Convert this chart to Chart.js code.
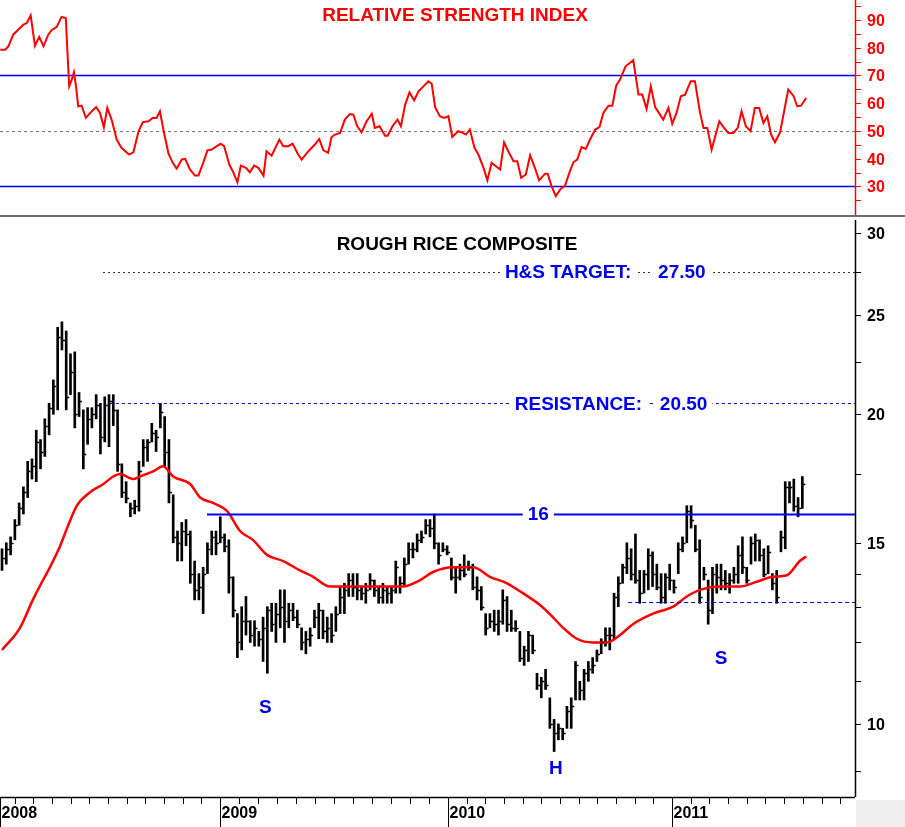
<!DOCTYPE html>
<html lang="en">
<head>
<meta charset="UTF-8">
<title>Rough Rice Composite</title>
<script src="https://cdn.jsdelivr.net/npm/chart.js@4.4.0/dist/chart.umd.min.js"></script>
<style>
  body { margin: 0; background: #fff; width: 905px; height: 827px; overflow: hidden; position: relative; }
  #rsiBox { position: absolute; left: 0; top: 0; width: 905px; height: 215px; }
  #sep { position: absolute; left: 0; top: 215px; width: 905px; height: 2px; background: #6e6e6e; }
  #mainBox { position: absolute; left: 0; top: 217px; width: 905px; height: 610px; }
  #corner { position: absolute; left: 856px; top: 800px; width: 49px; height: 27px; background: #eeeeee; }
</style>
</head>
<body>
<div id="rsiBox"><canvas id="rsiChart"></canvas></div>
<div id="sep"></div>
<div id="mainBox"><canvas id="priceChart"></canvas></div>
<div id="corner"></div>
<script>
// weekly bars, Jan 2008 .. Jul 2011 (index = week number)
const highs = [14.8,15.0,15.2,15.8,16.4,17.0,18.0,18.1,19.3,18.9,19.8,20.5,21.6,
  24.3,24.6,24.1,22.9,23.0,21.0,20.2,20.3,20.3,20.9,20.5,20.8,20.9,20.9,20.2,
  17.9,17.2,16.4,16.5,18.0,18.9,18.9,19.6,19.3,20.5,19.9,18.9,
  16.7,15.4,15.7,15.8,15.4,14.4,14.0,14.2,15.0,15.4,15.4,15.9,15.3,
  15.1,13.9,12.8,13.0,13.3,12.6,12.6,12.3,12.7,13.0,13.1,13.1,13.5,13.5,13.1,13.1,12.9,
  12.4,12.3,12.4,12.9,13.1,12.9,12.7,12.8,13.0,13.6,13.7,14.0,14.0,14.0,13.6,13.7,14.0,13.8,13.6,13.7,13.6,13.6,
  14.4,13.9,14.5,15.0,15.0,15.3,15.4,15.8,15.8,16.0,15.0,15.0,14.9,14.5,14.2,
  14.3,14.6,14.4,14.3,13.9,13.6,12.8,12.8,12.9,12.9,13.5,13.3,12.9,12.6,12.3,11.9,12.3,12.2,
  11.2,11.1,11.3,10.6,10.1,10.0,9.9,10.4,10.6,11.5,11.0,11.3,11.5,11.6,11.8,12.1,12.4,12.4,
  13.4,13.9,14.3,15.0,14.8,15.3,14.1,14.1,14.8,14.7,14.3,14.0,14.0,14.3,13.8,15.0,15.2,
  16.3,16.3,15.6,15.1,14.2,13.8,14.2,14.3,14.3,14.1,14.0,14.2,14.9,15.2,14.2,
  15.2,15.3,15.1,14.8,14.9,14.0,14.1,15.4,17.2,17.2,17.3,16.6,17.4];
const lows = [14.1,14.3,14.6,15.1,15.6,16.0,16.6,17.3,17.2,17.7,18.2,19.1,20.0,
  20.2,23.1,20.2,20.9,19.4,19.9,17.7,18.7,19.4,19.8,18.3,18.8,18.6,19.5,17.6,
  16.6,16.4,15.9,16.0,16.1,17.8,18.0,18.8,18.4,19.4,17.8,16.4,
  15.0,14.4,14.4,14.9,13.7,13.2,13.2,12.8,14.0,14.6,14.6,15.0,14.7,
  13.4,12.7,11.6,11.8,12.2,12.0,11.9,11.9,11.5,11.2,12.3,12.0,12.4,12.0,12.4,12.6,12.4,
  11.8,11.7,11.9,12.4,12.1,12.1,12.0,12.0,12.3,12.8,12.8,13.3,13.3,13.2,13.2,13.1,13.5,13.3,13.1,13.1,13.1,13.1,
  13.4,13.4,13.6,14.3,14.5,14.7,15.0,15.3,15.2,14.8,14.3,14.7,14.6,13.8,13.4,
  13.8,13.9,14.1,13.5,13.2,12.9,12.2,12.4,12.3,12.2,12.5,12.3,12.3,12.3,11.5,11.4,11.5,11.7,
  10.8,10.6,10.8,9.9,9.4,9.65,9.65,9.9,9.9,10.55,10.55,10.55,11.0,11.2,11.5,11.7,11.9,11.8,
  12.1,13.0,13.7,14.0,13.8,13.7,13.1,13.4,13.5,13.6,13.5,13.1,13.1,13.5,13.4,14.0,14.7,
  15.0,15.5,14.7,13.1,13.8,12.5,12.8,13.4,13.5,13.5,13.4,13.7,13.7,14.0,13.7,
  14.3,14.4,14.4,13.9,14.0,13.5,13.1,14.7,14.8,16.4,16.1,15.9,16.2];
const closes = [14.5,14.8,15.0,15.6,16.2,16.8,17.6,17.8,18.8,18.4,19.5,20.3,21.3,
  23.8,23.6,20.8,22.0,20.0,20.6,18.3,19.8,20.0,20.4,19.0,20.4,20.6,20.2,17.9,
  16.8,16.6,16.2,16.3,17.6,18.6,18.8,19.2,19.0,20.1,18.4,16.8,
  15.2,15.0,15.4,15.3,14.0,13.5,13.6,14.0,14.8,15.2,15.0,15.2,14.9,
  13.9,12.9,12.0,12.6,12.6,12.2,12.4,12.1,12.4,12.9,12.5,12.8,13.0,12.6,12.9,12.7,12.5,
  12.0,12.1,12.2,12.7,12.9,12.3,12.4,12.2,12.8,13.3,13.5,13.8,13.6,13.5,13.4,13.5,13.8,13.5,13.3,13.5,13.4,13.5,
  14.2,13.7,14.3,14.8,14.8,15.1,15.2,15.6,15.5,15.0,14.6,14.8,14.7,13.9,13.9,
  14.1,14.0,14.2,13.6,13.5,13.0,12.4,12.6,12.5,12.6,13.2,12.5,12.4,12.4,11.6,11.8,12.2,11.8,
  10.9,11.0,10.9,10.0,9.8,9.9,9.8,10.3,10.4,11.4,10.8,11.2,11.3,11.4,11.7,12.0,12.2,12.2,
  13.3,13.7,14.2,14.5,14.0,13.8,13.4,14.0,14.6,14.0,13.6,13.3,13.9,13.8,13.6,14.8,15.0,
  16.1,15.8,14.8,13.3,14.0,12.9,14.0,13.9,13.8,13.7,13.8,14.0,14.6,14.2,13.8,
  15.0,15.1,14.6,14.0,14.7,13.7,13.3,15.2,17.0,17.0,16.3,16.2,17.1];

// 40-week moving average
const maWeeks = [0,4.2,7.2,9.6,11.2,13.6,15.2,17.5,20.6,23.6,26,27.6,30.6,32.2,35.3,37.6,40,44,46.3,49.3,
  52.6,55.6,58.6,61.9,65.7,69.6,72.7,76.6,81.3,88.3,93.7,97.7,100.7,105.4,110.1,114,118,121.7,125.7,
  128.7,131.1,134.3,138.1,141.4,144.4,147.4,152.1,156.8,160,163.1,167.8,172.4,176.4,180.1,183.4,186.4,187.9];
const maValues = [11.8,12.4,13.2,13.8,14.2,14.9,15.5,16.3,16.8,17.1,17.4,17.5,17.3,17.4,17.6,17.8,17.4,17.1,16.6,16.4,
  16.1,15.4,15.1,14.6,14.4,14.1,13.9,13.6,13.6,13.6,13.6,13.8,14.05,14.2,14.2,13.9,13.7,13.4,13.05,
  12.7,12.4,12.1,12.0,12.0,12.2,12.5,12.8,13.0,13.3,13.5,13.6,13.6,13.75,13.9,13.95,14.4,14.55];

// RSI
const rsiWeeks = [-0.4,0.7,1.5,2.6,3.8,5.0,5.8,6.7,7.7,8.7,9.7,10.8,11.6,12.8,13.9,14.9,15.3,15.7,16.3,16.8,17.3,17.8,
  18.6,19.6,20.6,22.0,22.9,23.8,24.6,25.6,26.8,27.9,29.7,30.7,31.9,32.9,34.2,35.2,36.1,36.9,37.7,38.9,39.9,40.8,
  42.0,42.8,43.9,45.1,45.9,47.0,48.0,49.0,50.2,51.1,51.9,53.1,54.1,55.0,55.8,57.0,57.9,58.9,59.9,61.1,61.8,63.0,
  64.8,65.7,66.9,67.9,69.1,70.0,71.6,73.1,74.1,75.1,76.2,77.0,77.8,79.0,80.1,81.3,82.1,83.0,84.0,85.2,86.4,87.1,
  88.2,89.5,90.1,91.3,92.4,93.2,94.2,95.2,96.3,97.3,98.3,99.6,100.4,101.2,102.3,103.3,104.3,
  105.2,106.6,107.4,108.4,109.3,110.4,111.3,112.5,113.4,114.4,115.4,116.4,117.3,118.3,119.5,120.4,121.3,122.4,
  123.4,124.5,125.5,126.9,127.5,128.4,129.4,130.5,131.5,132.7,133.5,134.4,135.4,136.4,137.4,138.6,139.6,140.5,
  141.7,142.6,143.5,144.4,145.7,147.5,148.7,149.6,150.6,151.6,152.6,154.5,155.7,156.6,157.6,158.6,159.6,160.9,
  161.9,163.1,163.9,164.8,165.8,167.6,168.7,169.7,170.9,171.9,172.8,173.8,174.9,175.9,176.9,177.9,178.8,179.7,
  180.6,181.8,183.7,184.9,185.8,186.7,187.9];
const rsiValues = [79.3,79.3,80.5,84.7,86.5,88.3,88.9,91.7,80.7,83.9,80.5,84.7,86.3,87.5,91.1,90.7,78.1,66.1,68.5,71.1,66.1,58.9,
  59.1,54.7,56.5,58.6,56.5,51.3,58.3,54.1,46.9,43.9,41.5,42.3,49.9,53.2,53.5,54.7,54.7,57.1,50.5,41.8,38.5,36.4,
  39.7,39.9,36.1,33.9,33.9,38.5,43.0,43.3,44.5,45.4,44.5,37.9,34.9,31.5,37.5,36.7,35.1,37.5,36.7,33.9,42.7,41.1,
  46.9,44.5,44.5,45.4,41.8,39.7,42.7,45.1,47.1,43.0,42.1,47.8,48.7,49.3,54.1,56.1,55.9,51.7,49.5,53.5,56.2,51.1,
  51.7,48.3,48.3,51.9,54.1,51.7,59.5,63.9,61.0,64.3,65.8,67.9,67.0,58.6,55.3,54.7,55.3,
  47.8,49.9,49.5,48.7,50.5,43.9,41.5,36.7,32.2,38.5,37.3,36.1,45.9,42.7,39.1,39.1,33.1,34.3,
  41.2,36.7,32.2,34.6,34.6,30.1,26.5,29.1,30.1,35.5,38.7,39.7,44.2,43.5,46.9,50.5,51.4,56.5,
  59.1,59.1,66.3,68.5,73.3,75.5,63.1,63.1,57.9,66.1,58.6,54.1,58.3,52.6,56.5,62.5,63.1,67.9,
  67.9,56.5,51.1,51.1,43.3,53.5,51.1,49.3,49.3,51.1,57.1,51.7,49.9,58.3,58.3,52.9,55.3,48.7,
  45.9,49.5,64.9,62.7,58.9,59.1,61.9];

const yearLabels = ['2008', '2009', '2010', '2011'];
const yearWeeks = [-1.4, 50.9, 104.2, 156.5];
const priceTicks = [9, 10, 11, 12, 13, 14, 15, 17.5, 20, 22.5, 25, 27.5, 30];
const priceLabels = [10, 15, 20, 25, 30];
const rsiTicks = [25, 30, 35, 40, 45, 50, 55, 60, 65, 70, 75, 80, 85, 90, 95];
const rsiLabels = [30, 40, 50, 60, 70, 80, 90];

const X_MIN = -0.47, X_MAX = 199.3;
const FONT = "'Liberation Sans', Arial, sans-serif";

// right-hand value axis, drawn from the chart's own y scale
function drawValueAxis(chart, ticks, labels, color) {
  const { ctx, chartArea: a, scales: { y } } = chart;
  ctx.save();
  ctx.strokeStyle = color; ctx.fillStyle = color;
  ctx.lineWidth = 1.5;
  ctx.beginPath(); ctx.moveTo(a.right + 0.5, a.top); ctx.lineTo(a.right + 0.5, a.bottom); ctx.stroke();
  ctx.lineWidth = 1;
  ctx.font = 'bold 16px ' + FONT;
  ctx.textAlign = 'left'; ctx.textBaseline = 'middle';
  ticks.forEach(v => {
    const py = Math.round(y.getPixelForValue(v)) + 0.5;
    ctx.beginPath(); ctx.moveTo(a.right, py); ctx.lineTo(a.right + 6, py); ctx.stroke();
    if (labels.includes(v)) ctx.fillText(String(v), a.right + 12, py + 1);
  });
  ctx.restore();
}

// RSI panel
const rsiDecor = {
  id: 'rsiDecor',
  beforeDatasetsDraw(chart) {
    const { ctx, chartArea: a, scales: { y } } = chart;
    ctx.save();
    ctx.lineWidth = 1.5;
    ctx.strokeStyle = '#0000ee';
    [70, 30].forEach(v => {
      const py = Math.round(y.getPixelForValue(v)) + 0.5;
      ctx.beginPath(); ctx.moveTo(a.left, py); ctx.lineTo(a.right, py); ctx.stroke();
    });
    ctx.strokeStyle = '#777';
    ctx.lineWidth = 1;
    ctx.setLineDash([3, 3]);
    const p50 = Math.round(y.getPixelForValue(50)) + 0.5;
    ctx.beginPath(); ctx.moveTo(a.left, p50); ctx.lineTo(a.right, p50); ctx.stroke();
    ctx.restore();
  },
  afterDraw(chart) {
    const { ctx } = chart;
    drawValueAxis(chart, rsiTicks, rsiLabels, '#ff0000');
    ctx.save();
    ctx.fillStyle = '#ff0000';
    ctx.font = 'bold 19px ' + FONT;
    ctx.textAlign = 'center';
    ctx.textBaseline = 'middle';
    ctx.fillText('RELATIVE STRENGTH INDEX', 455, 16);
    ctx.restore();
  }
};

new Chart(document.getElementById('rsiChart'), {
  type: 'line',
  data: {
    datasets: [{
      data: rsiWeeks.map((w, i) => ({ x: w, y: rsiValues[i] })),
      borderColor: '#ff0000', borderWidth: 2, pointRadius: 0, tension: 0
    }]
  },
  options: {
    responsive: true, maintainAspectRatio: false, animation: false,
    layout: { padding: { top: 0, bottom: 0, left: 0, right: 50 } },
    plugins: { legend: { display: false }, tooltip: { enabled: false } },
    scales: {
      x: { type: 'linear', min: X_MIN, max: X_MAX, display: false },
      y: { min: 19.7, max: 97.2, display: false }
    }
  },
  plugins: [rsiDecor]
});

// price panel
const priceDecor = {
  id: 'priceDecor',
  afterDatasetsDraw(chart) {
    const { ctx, chartArea: a, scales: { x, y } } = chart;
    ctx.save();
    // closing ticks
    ctx.strokeStyle = '#000';
    ctx.lineWidth = 1.5;
    closes.forEach((c, i) => {
      const px = x.getPixelForValue(i), py = Math.round(y.getPixelForValue(c)) + 0.5;
      ctx.beginPath(); ctx.moveTo(px, py); ctx.lineTo(px + 3, py); ctx.stroke();
    });
    const hline = (val, fromWeek, color, width, dash) => {
      const py = Math.round(y.getPixelForValue(val)) + 0.5;
      ctx.strokeStyle = color; ctx.lineWidth = width; ctx.setLineDash(dash);
      ctx.beginPath(); ctx.moveTo(x.getPixelForValue(fromWeek), py); ctx.lineTo(a.right, py); ctx.stroke();
      ctx.setLineDash([]);
    };
    hline(27.5, 23.6, '#333', 1, [2, 3]);
    hline(20.5, 25.2, '#0000ee', 1, [3, 3]);
    hline(13.15, 146.3, '#0000ee', 1, [4, 3]);
    hline(16, 47.9, '#0000ee', 2, []);

    const label = (txt, week, val, color, size, align) => {
      ctx.font = 'bold ' + size + 'px ' + FONT;
      ctx.textAlign = align || 'left';
      ctx.textBaseline = 'middle';
      const px = x.getPixelForValue(week), py = y.getPixelForValue(val);
      const w = ctx.measureText(txt).width;
      const left = ctx.textAlign === 'center' ? px - w / 2 : px;
      ctx.fillStyle = '#fff';
      ctx.fillRect(left - 5, py - size / 2, w + 10, size);
      ctx.fillStyle = color;
      ctx.fillText(txt, px, py + 1);
    };
    label('H&S TARGET:', 117.5, 27.5, '#0000ee', 19);
    label('27.50', 153.3, 27.5, '#0000ee', 19);
    label('RESISTANCE:', 119.8, 20.5, '#0000ee', 19);
    label('20.50', 153.7, 20.5, '#0000ee', 19);
    label('16', 125.3, 16, '#0000ee', 19, 'center');
    label('ROUGH RICE COMPOSITE', 106.3, 29.3, '#000', 19, 'center');
    label('S', 61.5, 10.4, '#0000ee', 19, 'center');
    label('H', 129.4, 9.06, '#0000ee', 19, 'center');
    label('S', 168, 11.6, '#0000ee', 19, 'center');

    // time axis
    const bottom = a.bottom;
    ctx.strokeStyle = '#000'; ctx.lineWidth = 1.5;
    ctx.beginPath(); ctx.moveTo(0, bottom + 0.5); ctx.lineTo(a.right, bottom + 0.5); ctx.stroke();
    ctx.lineWidth = 1;
    ctx.font = 'bold 16px ' + FONT;
    ctx.textAlign = 'left'; ctx.textBaseline = 'top'; ctx.fillStyle = '#000';
    yearWeeks.forEach((w, k) => {
      const next = k < yearWeeks.length - 1 ? yearWeeks[k + 1] : w + 52.5;
      for (let m = 1; m < 12; m++) {
        const px = Math.round(x.getPixelForValue(w + (next - w) * m / 12)) + 0.5;
        if (px > a.right) break;
        ctx.beginPath(); ctx.moveTo(px, bottom); ctx.lineTo(px, bottom + 7); ctx.stroke();
      }
      const px0 = Math.max(0.5, Math.round(x.getPixelForValue(w)) + 0.5);
      ctx.beginPath(); ctx.moveTo(px0, bottom); ctx.lineTo(px0, bottom + 30); ctx.stroke();
      ctx.fillText(yearLabels[k], px0 + 1, bottom + 9);
    });
    ctx.restore();
    drawValueAxis(chart, priceTicks, priceLabels, '#000');
  }
};

new Chart(document.getElementById('priceChart'), {
  data: {
    datasets: [{
      type: 'bar',
      data: highs.map((h, i) => ({ x: i, y: [lows[i], h] })),
      backgroundColor: '#000', barThickness: 2, order: 2
    }, {
      type: 'line',
      data: maWeeks.map((w, i) => ({ x: w, y: maValues[i] })),
      borderColor: '#ff0000', borderWidth: 2.5, pointRadius: 0,
      cubicInterpolationMode: 'monotone', order: 1
    }]
  },
  options: {
    responsive: true, maintainAspectRatio: false, animation: false,
    layout: { padding: { top: 3, bottom: 30, left: 0, right: 50 } },
    plugins: { legend: { display: false }, tooltip: { enabled: false } },
    scales: {
      x: { type: 'linear', min: X_MIN, max: X_MAX, display: false, offset: false },
      y: { type: 'logarithmic', min: 8.49, max: 30.9, display: false }
    }
  },
  plugins: [priceDecor]
});
</script>
</body>
</html>
